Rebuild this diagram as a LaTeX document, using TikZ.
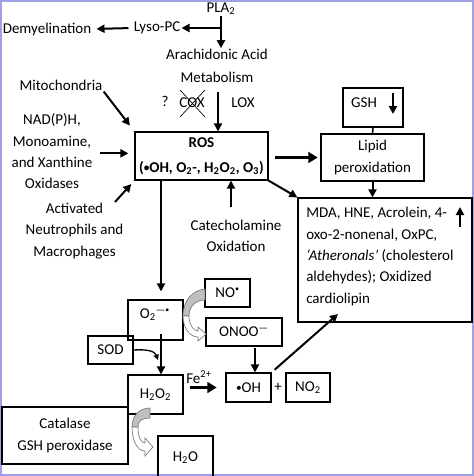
\documentclass[tikz,border=0pt]{standalone}
\usepackage{fontspec}
\usepackage{graphicx}
\setmainfont{Carlito}
\usetikzlibrary{arrows.meta}

\newcommand{\rad}{\raisebox{0.12ex}{\scalebox{0.75}{\textbullet}}}

\tikzset{
  txt/.style={inner sep=0.75pt, align=center, font=\fontsize{11.25}{16}\selectfont},
  box/.style={draw, line width=0.9pt, inner sep=0pt, align=center, font=\fontsize{11.25}{16}\selectfont},
  arr/.style={line width=1.5pt, -{Triangle[length=6pt,width=6pt]}},
  bigarr/.style={line width=2pt, -{Triangle[length=7pt,width=8pt]}},
  band/.style={fill={rgb, 255:red, 191; green, 191; blue, 191}, draw={rgb, 255:red, 120; green, 120; blue, 120}, line width=0.5pt},
  hollow/.style={fill=white, draw={rgb, 255:red, 120; green, 120; blue, 120}, line width=0.5pt},
}

\begin{document}
\begin{tikzpicture}[x=0.75pt,y=0.75pt,yscale=-1,xscale=1]
        \useasboundingbox (0,0) rectangle (474,476);
        \clip (0,0) rectangle (474,476);
        \draw [color={rgb, 255:red, 160; green, 160; blue, 230}, line width=1.5pt] (1,1) rectangle (473,475);

        % PLA2 branch
        \draw (221,9) node [txt] (pla) {PLA\textsubscript{2}};
        \draw (157,28) node [txt] (lyso) {Lyso-PC};
        \draw (47,29) node [txt] (demy) {Demyelination};
        \draw (217,66) node [txt] (aa) {Arachidonic Acid\\[1pt]Metabolism};
        \draw [arr] (pla.south) -- (pla.south |- aa.north);
        \draw [arr] (pla.south |- lyso.east) -- (lyso.east);
        \draw [arr, shorten <=3pt, shorten >=3pt] (lyso.west) -- (demy.east);

        % COX / LOX
        \draw (165,101) node [txt] (q) {?};
        \draw (192,103) node [txt] (cox) {COX};
        \draw [line width=0.5pt] (180,90) -- (205,117) (180,117) -- (205,90);
        \draw (243,103) node [txt] (lox) {LOX};
        \coordinate (loxarr) at (218,92);

        % ROS
        \draw (201.5,156) node [box, minimum width=99.75pt, minimum height=36pt, font=\fontsize{11.25}{16}\selectfont\bfseries] (ros) {ROS\\[2.5pt](\rad OH, O\textsubscript{2}-, H\textsubscript{2}O\textsubscript{2}, O\textsubscript{3})};
        \draw [arr] (loxarr) -- (loxarr |- ros.north);

        % sources
        \draw (61,85) node [txt] (mito) {Mitochondria};
        \draw (52,151.5) node [txt] (nad) {NAD(P)H,\\Monoamine,\\and Xanthine\\Oxidases};
        \draw (74.5,231) node [txt] (act) {Activated\\Neutrophils and\\Macrophages};
        \draw (236,236) node [txt] (cat) {Catecholamine\\Oxidation};
        \coordinate (actarr) at (115,202);
        \coordinate (catarr) at (231,207);
        \draw [arr, shorten >=5.5pt] (mito.south east) -- (ros.north west);
        \draw [arr, shorten <=5pt, shorten >=4.5pt] ([yshift=-2pt]ros.west -| nad.east) -- ([yshift=-2pt]ros.west);
        \draw [arr, shorten >=3.5pt] (actarr) -- (ros.south west);
        \draw [arr] (catarr) -- (catarr |- ros.south);

        % lipid peroxidation
        \draw (373,107.5) node [box, minimum width=45pt, minimum height=29.25pt] (gsh) {};
        \draw (364,103) node [txt] (gsht) {GSH};
        \coordinate (gshdn) at (393,93);
        \draw [arr] (gshdn) -- (393,114);
        \draw (372.5,157.5) node [box, minimum width=77.25pt, minimum height=35.25pt] (lipid) {Lipid\\[1pt]peroxidation};
        \draw [line width=1.2pt] (gsh.south) -- (lipid.north);
        \draw [bigarr, shorten <=5pt, shorten >=2pt] (ros.east |- lipid.west) -- (lipid.west);

        % products
        \draw (385,260) node [box, minimum width=130.5pt, minimum height=93pt] (mda) {};
        \draw (305,206) node [txt, anchor=north west, align=left] (mdat) {MDA, HNE, Acrolein, 4-\\oxo-2-nonenal, OxPC,\\\textit{‘Atheronals’} (cholesterol\\aldehydes); Oxidized\\cardiolipin};
        \coordinate (mdaup) at (460,227);
        \draw [arr] (mdaup) -- (460,207);
        \draw [arr] (lipid.south) -- (lipid.south |- mda.north);
        \draw [arr] (ros.south east) -- (mda.north west);

        % superoxide
        \draw (155.5,320) node [box, minimum width=41.25pt, minimum height=30pt] (o2) {};
        \draw (155,315) node [txt] (o2t) {O\textsubscript{2}\textsuperscript{—\rad}};
        \coordinate (rosdn) at (161,180);
        \draw [arr, shorten >=6pt] (rosdn) -- (rosdn |- o2.north);
        \draw (227.5,293) node [box, minimum width=33.75pt, minimum height=21pt] (no) {NO\textsuperscript{\rad}};
        \draw (244,332) node [box, minimum width=57pt, minimum height=21pt] (onoo) {ONOO\textsuperscript{—}};
        \draw [band] (183,316) .. controls (183,300) and (193,290) .. (205,289) -- (205,300) .. controls (196,300) and (189,306) .. (189,316) -- cycle;
        \draw [hollow] (189,316) .. controls (189,324) and (193,331) .. (198,331) -- (198,327) -- (206,334) -- (198,341) -- (198,337) .. controls (190,337) and (183,328) .. (183,316) -- cycle;

        % dismutation
        \draw (110.5,350) node [box, minimum width=33.75pt, minimum height=21pt] (sod) {SOD};
        \draw (155.5,394.5) node [box, minimum width=41.25pt, minimum height=29.25pt] (hh) {H\textsubscript{2}O\textsubscript{2}};
        \coordinate (o2out) at (161,334);
        \draw [arr] (o2out) -- (o2out |- hh.north);
        \draw [line width=1pt, -{Triangle[length=4pt,width=4pt]}] (sod.east) .. controls (150,349) and (155,352) .. (158,360);

        % hydroxyl radical
        \draw (248.5,387.5) node [box, minimum width=33.75pt, minimum height=21.75pt] (oh) {\rad OH};
        \draw (278,387.5) node [txt] (plus) {+};
        \draw (308,387.5) node [box, minimum width=33pt, minimum height=21.75pt] (no2) {NO\textsubscript{2}};
        \draw (199,377) node [txt] (fe) {Fe\textsuperscript{2+}};
        \draw [bigarr, shorten <=5pt, shorten >=6.5pt] (hh.east |- oh.west) -- (oh.west);
        \coordinate (onoodn) at (255,348);
        \draw [arr] (onoodn) -- (onoodn |- oh.north);
        \coordinate (cardio) at (338,314);
        \draw [arr, shorten <=3pt] (oh.north east) -- (cardio);

        % catalase
        \draw (65,435.5) node [box, minimum width=94.5pt, minimum height=42.75pt] (catal) {Catalase\\[1pt]GSH peroxidase};
        \draw (185.5,458) node [box, minimum width=41.25pt, minimum height=33pt] (water) {H\textsubscript{2}O};
        \draw [band] (150,408) .. controls (140,408) and (132,415) .. (132,427) -- (138,427) .. controls (138,420) and (143,418) .. (150,418) -- cycle;
        \draw [hollow] (132,427) .. controls (132,440) and (137,451) .. (145,451) -- (145,456) -- (153,447) -- (145,438) -- (145,443) .. controls (141,443) and (138,437) .. (138,427) -- cycle;
\end{tikzpicture}
\end{document}
